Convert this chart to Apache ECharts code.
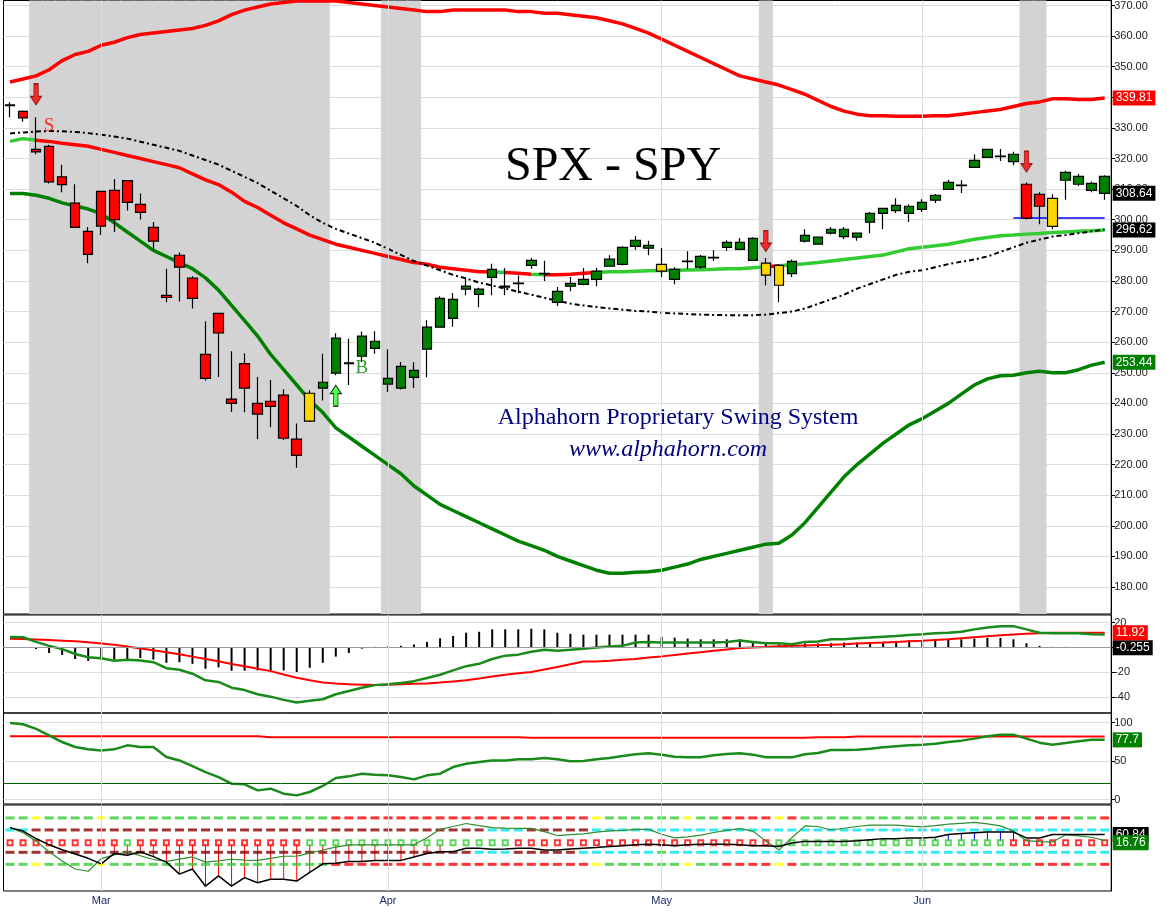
<!DOCTYPE html>
<html><head><meta charset="utf-8">
<script src="https://cdn.jsdelivr.net/npm/echarts@6/dist/echarts.min.js"></script>
<style>html,body{margin:0;padding:0;background:#fff}#c{width:1167px;height:912px}</style>
</head><body><div id="c"></div>
<script>
// ---------- DATA ----------
const dates = ['2020-02-20','2020-02-21','2020-02-24','2020-02-25','2020-02-26','2020-02-27','2020-02-28',
'2020-03-02','2020-03-03','2020-03-04','2020-03-05','2020-03-06','2020-03-09','2020-03-10','2020-03-11','2020-03-12','2020-03-13',
'2020-03-16','2020-03-17','2020-03-18','2020-03-19','2020-03-20','2020-03-23','2020-03-24','2020-03-25','2020-03-26','2020-03-27',
'2020-03-30','2020-03-31','2020-04-01','2020-04-02','2020-04-03','2020-04-06','2020-04-07','2020-04-08','2020-04-09','2020-04-13',
'2020-04-14','2020-04-15','2020-04-16','2020-04-17','2020-04-20','2020-04-21','2020-04-22','2020-04-23','2020-04-24','2020-04-27',
'2020-04-28','2020-04-29','2020-04-30','2020-05-01','2020-05-04','2020-05-05','2020-05-06','2020-05-07','2020-05-08','2020-05-11',
'2020-05-12','2020-05-13','2020-05-14','2020-05-15','2020-05-18','2020-05-19','2020-05-20','2020-05-21','2020-05-22','2020-05-26',
'2020-05-27','2020-05-28','2020-05-29','2020-06-01','2020-06-02','2020-06-03','2020-06-04','2020-06-05','2020-06-08','2020-06-09',
'2020-06-10','2020-06-11','2020-06-12','2020-06-15','2020-06-16','2020-06-17','2020-06-18','2020-06-19'];
// [bodyA, bodyB, low, high]
const ohlc = [
[337.5,337.3,333.5,338.4],[335.4,333.3,332,335.7],[323,322.2,321.4,333.5],[324,312.4,311.8,324.5],[314,311.5,309,318],
[305.4,297.5,297.5,311.6],[296.2,288.7,285.8,297.6],[297.9,309.3,295,309.3],[309.6,300,296,313.3],[305.7,312.8,303,312.8],
[305,302.4,300.1,308.6],[297.5,293,290,299.3],[275.3,274.6,273,284],[288.4,284.5,273.3,289.3],[280.9,274.3,271,281.5],
[256,248.2,247.5,266.8],[269.4,263,248.6,269.4],[241.4,240,237.2,257],[253,245,237.1,256.4],[240,236.5,228.3,248.6],
[240.7,239,232.2,247.6],[242.7,228.6,228,244.6],[228.3,223,219,233.4],[243.3,234.2,233.9,244.3],[246.9,245,240.9,256.2],
[261.3,249.9,249.2,262.9],[253.2,253,246,261.1],[262,255.4,253.5,263.5],[260.3,258,256.2,263.6],[248.2,246.3,243.7,257.7],
[252.1,245,244.5,253.5],[250.8,248.5,245,253.4],[264.9,257.7,248.5,267.2],[274.3,264.9,264.9,275],[274,267.8,265,276.1],
[278.3,277.3,275.3,281.2],[277.3,275.6,271.4,277.8],[283.8,281.2,275.3,285.6],[278.3,278,275.3,284.2],[279.3,279.1,276,281.8],
[286.7,285.1,284,287.5],[282.5,282.3,280,286.6],[276.6,273,271.8,278],[279.2,278.3,276.6,281.3],[280.5,278.9,278.6,284.2],
[283.2,280.5,278.3,284.2],[287.1,284.8,284.8,288.4],[291,285.4,285.1,291.3],[293.3,291.3,290.2,294.7],[291.6,290.7,288.4,293.1],
[285.4,283.2,281.3,290.8],[283.8,280.5,278.9,284.5],[286.5,286.3,283.8,289.7],[288,284.5,284,288.5],[287.7,287.5,286.5,290],
[292.6,291,289.9,293.3],[292.6,290.3,290,294],[293.9,286.7,286.5,294.3],[285.8,281.9,278.6,287.5],[285.1,278.6,273,285.4],
[286.4,282.4,281.3,287],[294.9,293,292.6,296.9],[294.3,292,291.9,294.5],[296.9,295.6,295.2,297.6],[296.9,294.5,293.6,297.6],
[295.6,294.3,293.1,295.8],[302.1,299.2,295.6,302.5],[303.7,302.1,296.9,303.8],[304.7,303,302.2,307],[304.4,302.1,299.3,305],
[305.7,303.4,302.5,306.7],[308,306.4,305.5,308.4],[312.2,309.9,309.8,313.1],[311.3,311.1,308.7,312.9],[319.4,317.1,317.1,321.4],
[323,320.4,320.2,323.2],[320.8,320.6,319.2,323.1],[321.4,319,317.8,322.2],[311.6,300.5,300.1,312.2],[308.3,304.4,298.5,309],
[307,297.8,296.9,308.3],[315.5,312.9,306.5,316],[314.2,311.6,311,315],[311.9,309.6,309,312.5],[314.2,308.64,306.5,314.5]];
const candleColor = 'grrrrrrrrrrrrrrrrrrrrrrygggggggggggggggggyggggggggygggggggyyggggggggggggggggggrryggggy'.split('');
const shade = [0,0,1,1,1,1,1,1,1,1,1,1,1,1,1,1,1,1,1,1,1,1,1,1,1,0,0,0,0,1,1,1,0,0,0,0,0,0,0,0,0,0,0,0,0,0,0,0,0,0,0,0,0,0,0,0,0,0,1,0,0,0,0,0,0,0,0,0,0,0,0,0,0,0,0,0,0,0,1,1,0,0,0,0,0];
const upperBand = [345,346,347,349,352, 354,355,357,358,359.5, 360.5,361,361.5,362,362.5, 363.5,365,367,368.5,369.5, 370.5,371,371.5,371.5,371.5, 371.5,371,370.5,370,369.5, 369,368.5,368,368,368.5, 368.5,368.5,368.5,368.5,368, 368,367.5,367.5,367,366.5, 366,365,364,362.5,361, 359,357,355,353,351, 349,347,346,345,344, 342.5,341,339,337,335.5, 334.5,334,334,333.8,333.8, 333.8,334,334,334.5,335, 335.5,336,337,338,338.5, 339.5,339.5,339.3,339.3,339.81];
const lowerBand = [308.6,308.6,308,307,305.5, 304.5,303.5,302,299,296, 293,290,288,286,284, 281,277,272,267,262, 256,251,246,241,237, 232,229,226,223,220, 217,213,210,207,205, 203,201,199,197,195, 193.5,192,190,188.5,187, 185.5,184.5,184.5,184.8,185, 185.5,186.5,187.5,189,190, 191,192,193,194,194.3, 197,201,206,211,216, 220,223.5,227,230,233, 235,237.5,240,243,246, 248,249,249.2,250,250.5, 250,250,251,252.5,253.44];
const midLine = [325.6,326.5,326,325.6,325, 324.5,324,323,322,321, 320,319,318,317,315, 313,311.5,309,306,304, 301.5,299,297,295,293.5, 292,291,290,289,288, 287,286,285.5,284.5,284, 283.5,283,283,282.8,282.5, 282.2,282,282,282.2,282.5, 282.8,283,283,283.2,283.3, 283.4,283.5,283.6,283.7,283.8, 284,284,284.3,284.6,285, 285.3,285.6,286,286.5,287, 287.5,288,288.5,289.5,290.5, 291,291.5,292,292.8,293.6, 294.2,294.8,295,295.3,295.5, 295.8,296,296.2,296.4,296.62];
const midColor = 'ggrrrrrrrrrrrrrrrrrrrrrrrrrrrrrrrrrrrgrrgrrrrgggggggggggggrggggggggggggggggggggggggg'.split('');
const slowMA = [328.2,328.5,328.8,329,328.9, 328.7,328.3,327.8,327.2,326.5, 325.5,324.5,323.5,322.5,321, 319.5,318,316,314,312, 309.5,307,304.5,301.5,299, 297,295.5,294,292.5,290.5, 288.5,286.5,285,283.5,282, 280.8,279.5,278.5,277.5,276.5, 275.5,274.5,273.5,272.6,272, 271.5,271,270.6,270.2,270, 269.6,269.4,269.2,269,268.9, 268.8,268.8,268.8,269,269.5, 270,271,272.5,274,275.5, 277.5,279,280.5,282,283, 283.5,284.5,285.5,286.3,287, 288,289.5,291,292.5,293.5, 294.5,295,295.6,296.2,296.8];
const sellArrows = [[2,341],[58,293],[78,319]];
const buyArrows = [[25,242.5]];
const signalText = [{i:3,p:330.5,t:'S',c:'#ff0000'},{i:27,p:251.5,t:'B',c:'#008000'}];
const supportLine = [77,84,300.5];
const yTicksMain = [180,190,200,210,220,230,240,250,260,270,280,290,300,310,320,330,340,350,360,370];
// MACD panel
const macdHist = [-0.3,0,-1.3,-4.5,-6,-9.3,-10.8,-9.8,-9.8,-9.5,-8.5,-9.8,-12.4,-11.9,-13.2,-17.2,-16.1,-18.8,-18.8,-18.5,-18.8,-18.5,-19.8,-16.4,-12.4,-7.4,-4.5,-1,0.5,0.8,1.3,2.4,4.5,7.4,9.3,11.9,12.7,14.6,14.6,14.6,15.1,14.6,11.9,11,10.3,10.3,10.3,10.3,10.3,10.3,8.5,7.9,7.2,6.6,6.6,6.6,6.6,4.5,3.2,2.6,2.6,3.2,3.2,3.4,4,4,4.5,4.5,5.3,5.8,6.1,6.6,6.6,6.6,7.1,7.7,7.7,6.6,3.4,1.3,0.5,0.5,0.2,0.1,-0.255];
const macdLine = [8.5,8.2,4.5,1.3,-1.3,-5.3,-7.9,-8.7,-10.8,-10,-10.6,-11.9,-16.7,-18,-21.2,-26.5,-27.8,-32.5,-34.4,-37.8,-39.7,-42.3,-44.4,-43.1,-41.8,-37.8,-35.2,-32.5,-30.4,-29.6,-28.6,-27.2,-24.6,-22,-18.5,-15.1,-13.2,-9.3,-6.6,-5.8,-3.4,-1.9,-2.6,-1.9,-1,0,0.8,1.3,4,4.5,4,4,4,4,4,4.5,5.6,4.5,3.4,3.4,2.6,4.5,4.8,6.6,6.6,7.4,8,8.7,9.3,10,10.6,11.4,11.9,12.7,14.6,16.1,17.2,17.2,14.6,11.9,11.4,11.4,11.4,10.6,10.4];
const macdSignal = [7.1,6.8,6.4,6,5.5,5,4.2,3.2,2.2,0.8,-0.8,-2.3,-3.8,-5.5,-7.4,-9.3,-11.2,-13.3,-15.2,-17.1,-19.1,-21.8,-24.4,-26.5,-28.3,-29,-29.6,-30,-30.4,-30,-29.6,-29.3,-29.1,-28.3,-27.4,-26.5,-25,-23.5,-22,-20.9,-19.8,-17.8,-15.8,-13.6,-11.4,-11.4,-10.8,-10,-9.3,-8.2,-7.2,-6,-4.8,-3.8,-2.7,-1.6,-0.5,0,0.4,0.9,1.3,1.6,1.9,2.2,2.6,3.1,3.6,4,4.5,5,5.5,6.1,6.6,7.4,8.2,9,9.8,10.4,11,11.5,11.9,11.9,11.9,11.9,11.92];
// Stochastic panel
const stochK = [99.5,98,92,83.5,74.9,68.4,65.4,64,65.4,70.6,68.4,68.4,55.4,51,43.7,35.9,29.4,20.8,19.9,12.1,14.3,7.8,5.6,10,17.8,28.2,30.3,33.8,32.5,31.6,29.4,26.4,31.6,33.8,42.4,46.7,48.9,51,51,52.4,52.4,54.1,52.4,49.8,50.4,52.4,54.1,56.7,58.9,60.2,58.5,55.8,55,55,57.6,59.4,60.2,58.5,55,55,55,58.9,60.6,64.5,64.5,65,66.2,68,69.3,70.6,71.5,72.8,74.9,76.7,79.3,82.3,84.5,84.5,79.3,74.1,71.5,73.6,75.8,77.9,77.7];
const stochD = [82.3,82.3,82.3,82.3,82.3,82.3,82.3,82.3,82.3,82.3,82.3,82.3,82.3,82.3,82.3,82.3,82.3,82.3,82.3,82.3,81.2,81.2,81.2,81.2,81.2,81.2,81.2,81.2,81.2,81.2,81.2,81.2,81.2,81.2,81.2,81.2,81.2,81.2,81.2,81.2,80.6,80.6,80.6,80.6,80.6,80.6,80.6,80.6,80.6,80.6,80.6,80.6,80.6,80.6,80.6,80.6,80.6,80.6,80.6,80.6,80.6,80.6,81.2,81.2,81.2,82,82,82,82,82,82,82,82,82,82,82,82,82,82,82,82,82,82,82,82];
const stochFloor = 22;
// Bottom panel
const rowOuter = 'ggyggggygggggggggggggggggrrrrrrrrrrrrrrrrrrrryggggggyggrrrryrggggggggggggggggggrrrggrr'.split('');
const rowInnerTop = 'ccdddddddddddddddddddddddddddddddddddcccdddddcccccccccccccccccccccccccccccccccccccccccc'.split('');
const rowInnerBot = 'ddddddddddddddddddddddddddddddddddddcccdddddccccccgccccccccccccccccccccccccccccccccccc'.split('');
const rowMid = 'rrrrrrrrrgrrrrrrrrrrrrrggggggggggggggggrrrrrrrrrrrrrrrrrrrrggggggggggggggggggrrrrrrrr'.split('');
const rowLevels = [85, 71, 56, 45, 31];
const oscGreen = [73.7,67.7,58,45.7,35,25.6,23,37.6,42,45.7,41,36.6,34.4,37,39.6,33.6,35,36.9,36,35.6,38,40.4,40.4,44,47.7,51,53.7,53.7,53.7,53.7,53.7,53.7,62,71.7,75,78.5,76,73.7,73,72.9,72.9,69,64.5,65.5,66.5,68.5,70,70.5,71.7,71.7,66,61.7,63,64.9,68,70.5,72.5,69.7,58,47.7,62,75.7,75,70.9,73,75,76.5,76.5,76.5,75.5,74.5,76,77.7,78.7,79.7,78,75.7,69.7,58.5,57.5,56.9,65.4,64,62.5,58.5];
const oscBlack = [73.7,69.7,61,53.7,48,43,38,31.6,43.7,41.6,45.7,40,33.6,19.6,25.6,5.6,17.6,5.6,15.6,9.6,13.6,13.6,11.6,21.6,31.6,32.4,34.4,34.4,35.6,35.6,35.6,39.6,43.7,45.7,45.7,49.7,49.7,48.5,48.9,49.7,49.7,47.7,47.7,48.9,49.7,50.5,51.7,52.5,53.7,54.5,53.7,52.5,53.7,54.5,54.5,54.5,53.7,52.5,52.5,51.7,55.7,57.7,57.7,57.7,57.7,58.5,59.7,60.9,60.9,61.7,61.7,62.5,65.7,66.9,67.7,68.5,68.5,68.5,61.7,61.7,65.7,65.7,65.7,65.7,65.7];
const stemRed = [8, 33];
const stemBlue = [71, 77];
const oscLabels = ['60.84','16.76'];

// ---------- CHART ----------
const N = dates.length;
const cmap = {r:'#ff0000', g:'#008000', y:'#ffd700'};
const rowColors = {g:'#33cc33', y:'#ffff00', r:'#ff0000', d:'#8b0000', c:'#00e5ee'};
const chart = echarts.init(document.getElementById('c'));
const GL = 3.5, GW = 1107.7;
const grids = [
  {left:GL, width:GW, top:0, height:614},
  {left:GL, width:GW, top:615, height:98},
  {left:GL, width:GW, top:713, height:91},
  {left:GL, width:GW, top:805, height:86}
];
grids.forEach(g=>{g.show=true;g.borderColor='#000';g.borderWidth=1;g.backgroundColor='transparent';});
const monthStart = [];
dates.forEach((d,i)=>{ if(i>0 && d.slice(5,7)!==dates[i-1].slice(5,7)) monthStart.push(i); });
const monthSet = new Set(monthStart);
const mNames = {'03':'Mar','04':'Apr','05':'May','06':'Jun'};
const xAxes = grids.map((g,k)=>({
  type:'category', gridIndex:k, data:dates, boundaryGap:true,
  axisLine:{show:false}, axisTick:{show:false},
  axisLabel:{show:k===3, interval:(i)=>monthSet.has(i), formatter:(v)=>mNames[v.slice(5,7)]||'',
    color:'#1a2a6c', fontSize:11, fontFamily:'Arial', margin:4},
  splitLine:{show:false}
}));
const axisCommon = (k,min,max,vals,fmt)=>({
  type:'value', gridIndex:k, position:'right', min, max, scale:true,
  axisLine:{show:true, lineStyle:{color:'#000'}},
  axisTick:{show:true, customValues:vals, length:4, lineStyle:{color:'#000'}},
  axisLabel:{show:true, customValues:vals, formatter:fmt, color:'#222', fontSize:11, fontFamily:'Arial', margin:3},
  splitLine:{show:true, lineStyle:{color:'#dcdcdc'}}
});
const yAxes = [
  axisCommon(0,171.18,371.63,yTicksMain,v=>v.toFixed(2)),
  axisCommon(1,-52.9,26.2,[20,0,-20,-40],v=>String(v)),
  axisCommon(2,-5.6,112.6,[100,50,0],v=>String(v)),
  Object.assign(axisCommon(3,0,100,[],v=>''),{axisTick:{show:false},axisLabel:{show:false},splitLine:{show:false}}),
  {type:'value', gridIndex:0, min:0, max:1, show:false, splitLine:{show:false}}
];

const endLab = (txt,bg,fg)=>({show:true, formatter:()=>txt, backgroundColor:bg, color:fg||'#fff', padding:[2,3,1,3], fontSize:12, fontFamily:'Arial', distance:8, borderRadius:0});
const vLines = ()=>({silent:true, symbol:'none', label:{show:false}, lineStyle:{color:'#dcdcdc', width:1, type:'solid'}, data:monthStart.map(i=>({xAxis:i}))});

const arrowDown = 'path://M3,0 L7,0 L7,12 L10,12 L5,20 L0,12 L3,12 Z';
const arrowUp = 'path://M3,20 L7,20 L7,8 L10,8 L5,0 L0,8 L3,8 Z';

const series = [];
series.push({type:'bar', xAxisIndex:0, yAxisIndex:4, data:shade, barWidth:14, itemStyle:{color:'#d3d3d3'}, silent:true, z:0, markLine:vLines()});
series.push({type:'line', xAxisIndex:0, yAxisIndex:0, data:upperBand, showSymbol:false, lineStyle:{color:'#ff0000', width:3.5}, endLabel:endLab('339.81','#ff0000'), z:3});
series.push({type:'line', xAxisIndex:0, yAxisIndex:0, data:lowerBand, showSymbol:false, lineStyle:{color:'#008000', width:3.5}, endLabel:endLab('253.44','#008000'), z:3});
const midIdx = series.length;
series.push({type:'line', xAxisIndex:0, yAxisIndex:0, data:midLine, showSymbol:false, lineStyle:{width:3.5}, endLabel:endLab('296.62','#000'), z:4});
series.push({type:'line', xAxisIndex:0, yAxisIndex:0, data:slowMA, showSymbol:false, lineStyle:{color:'#000', width:2, type:[5,3,2,3]}, z:4});
series.push({type:'candlestick', xAxisIndex:0, yAxisIndex:0, barWidth:10,
  data: ohlc.map((d,i)=>({value:d, itemStyle:{color:cmap[candleColor[i]], color0:cmap[candleColor[i]], borderColor:'#000', borderColor0:'#000', borderWidth:1.2}})),
  markLine:{silent:true, symbol:'none', label:{show:false}, lineStyle:{color:'#0000ff', width:1.5, type:'solid'},
    data:[[{coord:[supportLine[0],supportLine[2]]},{coord:[supportLine[1],supportLine[2]]}]]}, z:5});
series.push({type:'line', xAxisIndex:0, yAxisIndex:0, data:ohlc.map(d=>d[1]), showSymbol:false, lineStyle:{opacity:0}, endLabel:endLab('308.64','#000'), z:6});
series.push({type:'scatter', xAxisIndex:0, yAxisIndex:0, data:sellArrows, symbol:arrowDown, symbolSize:[11,21], itemStyle:{color:'#ff0000', borderColor:'#7a0000', borderWidth:1}, z:7});
series.push({type:'scatter', xAxisIndex:0, yAxisIndex:0, data:buyArrows, symbol:arrowUp, symbolSize:[11,21], itemStyle:{color:'#22ff22', borderColor:'#000', borderWidth:1}, z:7});
series.push({type:'scatter', xAxisIndex:0, yAxisIndex:0, symbolSize:0,
  data:signalText.map(s=>({value:[s.i,s.p], label:{show:true, formatter:s.t, color:s.c, fontSize:19, fontFamily:'Liberation Serif', position:'inside'}})), z:7});
// MACD
series.push({type:'bar', xAxisIndex:1, yAxisIndex:1, data:macdHist, barWidth:2, itemStyle:{color:'#000'},
  markLine:{silent:true, symbol:'none', label:{show:false}, lineStyle:{color:'#999', width:1, type:'solid'}, data:[{yAxis:0}].concat(monthStart.map(i=>({xAxis:i, lineStyle:{color:'#dcdcdc'}})))}});
series.push({type:'line', xAxisIndex:1, yAxisIndex:1, data:macdHist, showSymbol:false, lineStyle:{opacity:0}, endLabel:endLab('-0.255','#000')});
series.push({type:'line', xAxisIndex:1, yAxisIndex:1, data:macdSignal, showSymbol:false, lineStyle:{color:'#ff0000', width:2}, endLabel:endLab('11.92','#ff0000')});
series.push({type:'line', xAxisIndex:1, yAxisIndex:1, data:macdLine, showSymbol:false, lineStyle:{color:'#1a8a1a', width:2.5}});
// Stoch
series.push({type:'line', xAxisIndex:2, yAxisIndex:2, data:stochD, showSymbol:false, lineStyle:{color:'#ff0000', width:2},
  markLine:{silent:true, symbol:'none', label:{show:false}, lineStyle:{color:'#006400', width:1, type:'solid'}, data:[{yAxis:stochFloor}].concat(monthStart.map(i=>({xAxis:i, lineStyle:{color:'#dcdcdc'}})))}});
series.push({type:'line', xAxisIndex:2, yAxisIndex:2, data:stochK, showSymbol:false, lineStyle:{color:'#1a8a1a', width:2.5}, endLabel:endLab('77.7','#008000')});
// Bottom panel
const rows = [rowOuter,rowInnerTop,rowMid,rowInnerBot,rowOuter];
rows.forEach((r,k)=>{
  const mid = k===2;
  series.push({type:'scatter', xAxisIndex:3, yAxisIndex:3, symbol: mid?'emptyRect':'rect', symbolSize: mid?[5,5]:[9,3],
    data:r.map((c,i)=>({value:[i,rowLevels[k]], itemStyle:{color:rowColors[c], borderColor:rowColors[c], borderWidth: mid?1:0}})), z:2,
    markLine: k===0 ? vLines() : undefined});
});
const stemBase=[], stemLen=[];
oscBlack.forEach((v,i)=>{
  const red = i>=stemRed[0]&&i<=stemRed[1], blue=i>=stemBlue[0]&&i<=stemBlue[1];
  if(red||blue){ stemBase.push(Math.min(v,rowLevels[2])); stemLen.push({value:Math.abs(v-rowLevels[2]), itemStyle:{color: red?'#ff0000':'#0000ff'}}); }
  else { stemBase.push('-'); stemLen.push('-'); }
});
series.push({type:'bar', xAxisIndex:3, yAxisIndex:3, stack:'stem', data:stemBase, barWidth:1, itemStyle:{color:'transparent'}, z:1});
series.push({type:'bar', xAxisIndex:3, yAxisIndex:3, stack:'stem', data:stemLen, barWidth:1, z:1});
series.push({type:'line', xAxisIndex:3, yAxisIndex:3, data:oscGreen, showSymbol:false, lineStyle:{color:'#2e8b2e', width:1.2}, z:3});
series.push({type:'line', xAxisIndex:3, yAxisIndex:3, data:oscBlack, showSymbol:false, lineStyle:{color:'#000', width:1.5}, endLabel:endLab(oscLabels[0],'#000'), z:3});
series.push({type:'line', xAxisIndex:3, yAxisIndex:3, data:oscBlack.map(()=>rowLevels[2]), showSymbol:false, lineStyle:{opacity:0}, endLabel:endLab(oscLabels[1],'#008000'), z:4});

const pieces = midColor.map((c,i)=>({gte:i-0.5, lt:i+0.5, color: c==='g'?'#33cc33':'#ff0000'}));

chart.setOption({
  animation:false, backgroundColor:'#fff',
  grid:grids, xAxis:xAxes, yAxis:yAxes, series,
  visualMap:[{type:'piecewise', show:false, seriesIndex:midIdx, dimension:0, pieces}],
  title:[
    {text:'SPX - SPY', left:608, top:138, textAlign:'center', textStyle:{fontFamily:'Liberation Serif', fontSize:48, fontWeight:'normal', color:'#000'}},
    {text:'Alphahorn Proprietary Swing System', left:673, top:401, textAlign:'center', textStyle:{fontFamily:'Liberation Serif', fontSize:24, fontWeight:'normal', color:'#000080'}},
    {text:'www.alphahorn.com', left:663, top:433, textAlign:'center', textStyle:{fontFamily:'Liberation Serif', fontSize:24, fontStyle:'italic', fontWeight:'normal', color:'#000080'}}
  ]
});
</script></body></html>
